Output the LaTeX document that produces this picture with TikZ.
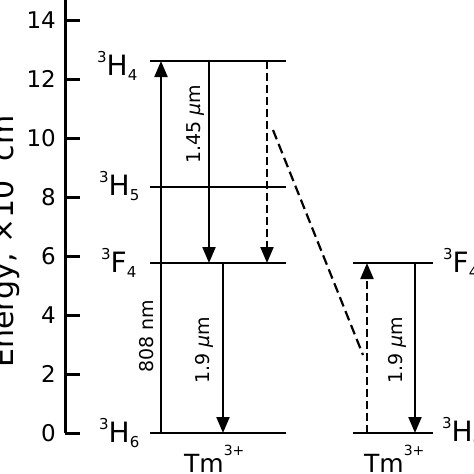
\documentclass[tikz,border=0pt]{standalone}
\usepackage{fontspec}
\setmainfont{DejaVu Sans}
\usetikzlibrary{arrows.meta}
\newcommand\sps[1]{\raisebox{0.45em}{\fontsize{15}{15}\selectfont #1}}
\newcommand\sbs[1]{\raisebox{-0.2em}{\fontsize{15}{15}\selectfont #1}}
\newcommand\ionsup[1]{\raisebox{0.66em}{\fontsize{14}{14}\selectfont #1}}
\begin{document}
\begin{tikzpicture}[x=1pt,y=-1pt,
  lvl/.style={line width=2.2pt},
  axis/.style={line width=3pt},
  arr/.style={line width=2.2pt,-{Triangle[length=16pt,width=13pt]}},
  darr/.style={arr,dash pattern=on 8pt off 4pt},
  lab/.style={font=\fontsize{28}{28}\selectfont,inner sep=0pt,anchor=base west},
  ticklab/.style={font=\fontsize{23}{23}\selectfont,anchor=east,inner sep=0pt},
  wl/.style={font=\fontsize{19}{19}\selectfont,rotate=90,inner sep=0pt},
  ion/.style={font=\fontsize{25}{25}\selectfont,anchor=base west,inner sep=0pt},
]
\useasboundingbox (0,0) rectangle (474,474);
\clip (0,0) rectangle (474,474);
% axis
\coordinate (atop) at (65,0);
\coordinate (abot) at (65,433);
\draw[axis] (atop) -- (abot);
\foreach \k/\y in {0/433,2/374,4/315,6/256,8/197,10/138,12/79,14/20}{
  \coordinate (t\k) at (65,\y);
  \coordinate (te\k) at (80,\y);
  \draw[axis] (t\k) -- (te\k);
  \node[ticklab] (tl\k) at (56,\y) {\k};
}
\node[rotate=90,anchor=base west,inner sep=0pt,font=\fontsize{30}{30}\selectfont] (ylab) at (13,368) {Energy, ×10\sps{3} cm\sps{−1}};
% left levels
\coordinate (H4a) at (150,61);  \coordinate (H4b) at (286,61);
\coordinate (H5a) at (150,187); \coordinate (H5b) at (286,187);
\coordinate (F4a) at (150,263); \coordinate (F4b) at (286,263);
\coordinate (H6a) at (150,433); \coordinate (H6b) at (286,433);
\foreach \n in {H4,H5,F4,H6}{\draw[lvl] (\n a) -- (\n b);}
% right levels
\coordinate (rF4a) at (353,263); \coordinate (rF4b) at (433,263);
\coordinate (rH6a) at (353,433); \coordinate (rH6b) at (433,433);
\draw[lvl] (rF4a) -- (rF4b);
\draw[lvl] (rH6a) -- (rH6b);
% level labels
\node[lab] (lH4) at (97,75) {\sps{3}H\sbs{4}};
\node[lab] (lH5) at (99,195) {\sps{3}H\sbs{5}};
\node[lab] (lF4) at (101,272) {\sps{3}F\sbs{4}};
\node[lab] (lH6) at (99,442) {\sps{3}H\sbs{6}};
\node[lab] (rlF4) at (443,272) {\sps{3}F\sbs{4}};
\node[lab] (rlH6) at (442,441) {\sps{3}H\sbs{6}};
% arrows
\coordinate (p1) at (161,433); \coordinate (p2) at (161,61);
\draw[arr] (p1) -- (p2);
\coordinate (p3) at (209,61); \coordinate (p4) at (209,263);
\draw[arr] (p3) -- (p4);
\coordinate (p5) at (267,61); \coordinate (p6) at (267,263);
\draw[darr] (p5) -- (p6);
\coordinate (p7) at (223,263); \coordinate (p8) at (223,433);
\draw[arr] (p7) -- (p8);
\coordinate (q1) at (367,433); \coordinate (q2) at (367,263);
\draw[darr] (q1) -- (q2);
\coordinate (q3) at (415,263); \coordinate (q4) at (415,433);
\draw[arr] (q3) -- (q4);
\coordinate (d1) at (273,130); \coordinate (d2) at (363,355);
\draw[line width=2.2pt,dash pattern=on 10pt off 5pt] (d1) -- (d2);
% wavelength labels
\node[wl] (w808) at (147,336) {808 nm};
\node[wl] (w145) at (196,124) {1.45 \textit{μ}m};
\node[wl] (w19a) at (204,350) {1.9 \textit{μ}m};
\node[wl] (w19b) at (397,350) {1.9 \textit{μ}m};
% ions
\node[ion] (ionL) at (184,472) {Tm\ionsup{3+}};
\node[ion] (ionR) at (364,472) {Tm\ionsup{3+}};
\end{tikzpicture}
\end{document}
